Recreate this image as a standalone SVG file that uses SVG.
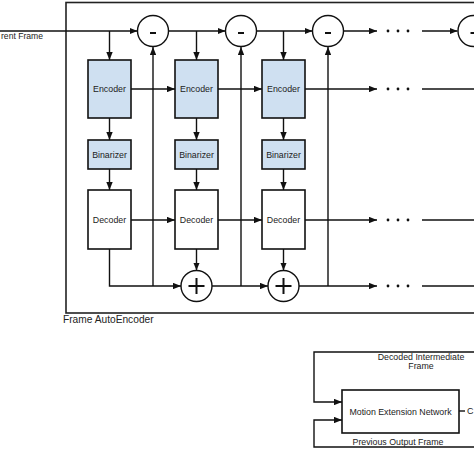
<svg xmlns="http://www.w3.org/2000/svg" width="474" height="474" viewBox="0 0 474 474">
<defs>
<marker id="ah" viewBox="0 0 10 8" refX="10" refY="4" markerWidth="8" markerHeight="6.4" markerUnits="userSpaceOnUse" orient="auto">
<path d="M0,0 L10,4 L0,8 Z" fill="#111"/>
</marker>
<style>
.ln{fill:none;stroke:#111;stroke-width:1.4}
.ar{fill:none;stroke:#111;stroke-width:1.4;marker-end:url(#ah)}
.blue{fill:#cfe0f1;stroke:#111;stroke-width:1.6}
.white{fill:#fff;stroke:#111;stroke-width:1.6}
.op{fill:#fff;stroke:#111;stroke-width:1.4}
.sign{stroke:#111;stroke-width:2;fill:none}
.t{font-family:"Liberation Sans",Arial,sans-serif;font-size:8.8px;fill:#222;text-anchor:middle}
.dot{fill:#111}
</style>
</defs>
<rect width="474" height="474" fill="#fff"/>

<g id="frame-autoencoder">
<rect x="66" y="2.5" width="420" height="310.5" fill="none" stroke="#222" stroke-width="1.6"/>
<text x="63" y="323" style="font-family:'Liberation Sans',Arial,sans-serif;font-size:10.2px;fill:#222">Frame AutoEncoder</text>
</g>

<g id="connectors">
<!-- current frame row -->
<line class="ar" x1="0" y1="31" x2="137.5" y2="31"/>
<line class="ar" x1="109.5" y1="31" x2="109.5" y2="60"/>
<line class="ar" x1="168.5" y1="31" x2="225.5" y2="31"/>
<line class="ar" x1="196.5" y1="31" x2="196.5" y2="60"/>
<line class="ar" x1="256.5" y1="31" x2="312.5" y2="31"/>
<line class="ar" x1="283.5" y1="31" x2="283.5" y2="60"/>
<line class="ar" x1="343.5" y1="31" x2="377" y2="31"/>
<line class="ar" x1="422" y1="31" x2="457.5" y2="31"/>
<!-- encoder row -->
<line class="ar" x1="131" y1="89" x2="175" y2="89"/>
<line class="ar" x1="218" y1="89" x2="262" y2="89"/>
<line class="ar" x1="305" y1="89" x2="377" y2="89"/>
<line class="ln" x1="422" y1="89" x2="474" y2="89"/>
<!-- encoder to binarizer to decoder -->
<line class="ar" x1="109.5" y1="118" x2="109.5" y2="140"/>
<line class="ar" x1="196.5" y1="118" x2="196.5" y2="140"/>
<line class="ar" x1="283.5" y1="118" x2="283.5" y2="140"/>
<line class="ar" x1="109.5" y1="169" x2="109.5" y2="190"/>
<line class="ar" x1="196.5" y1="169" x2="196.5" y2="190"/>
<line class="ar" x1="283.5" y1="169" x2="283.5" y2="190"/>
<!-- decoder row -->
<line class="ar" x1="131" y1="220" x2="175" y2="220"/>
<line class="ar" x1="218" y1="220" x2="262" y2="220"/>
<line class="ar" x1="305" y1="220" x2="377" y2="220"/>
<line class="ln" x1="422" y1="220" x2="474" y2="220"/>
<!-- sum row -->
<path class="ar" d="M109.5,249 V286 H181"/>
<line class="ar" x1="153" y1="286" x2="153" y2="47"/>
<line class="ar" x1="196.5" y1="249" x2="196.5" y2="270.5"/>
<line class="ar" x1="212" y1="286" x2="268" y2="286"/>
<line class="ar" x1="241" y1="286" x2="241" y2="47"/>
<line class="ar" x1="283.5" y1="249" x2="283.5" y2="270.5"/>
<line class="ar" x1="299" y1="286" x2="377" y2="286"/>
<line class="ar" x1="328" y1="286" x2="328" y2="47"/>
<line class="ln" x1="422" y1="286" x2="474" y2="286"/>
<!-- motion extension loops -->
<path class="ar" d="M474,352 H314 V402 H342"/>
<path class="ar" d="M474,447 H314 V420 H342"/>
<line class="ln" x1="459" y1="411" x2="465" y2="411"/>
</g>

<g id="ellipses">
<circle class="dot" cx="388" cy="31" r="1.4"/><circle class="dot" cx="398" cy="31" r="1.4"/><circle class="dot" cx="408" cy="31" r="1.4"/>
<circle class="dot" cx="388" cy="89" r="1.4"/><circle class="dot" cx="398" cy="89" r="1.4"/><circle class="dot" cx="408" cy="89" r="1.4"/>
<circle class="dot" cx="388" cy="220" r="1.4"/><circle class="dot" cx="398" cy="220" r="1.4"/><circle class="dot" cx="408" cy="220" r="1.4"/>
<circle class="dot" cx="388" cy="286" r="1.4"/><circle class="dot" cx="398" cy="286" r="1.4"/><circle class="dot" cx="408" cy="286" r="1.4"/>
</g>

<g id="minus1"><circle class="op" cx="153" cy="31" r="15.5"/><line class="sign" x1="150" y1="33" x2="156" y2="33"/></g>
<g id="minus2"><circle class="op" cx="241" cy="31" r="15.5"/><line class="sign" x1="238" y1="33" x2="244" y2="33"/></g>
<g id="minus3"><circle class="op" cx="328" cy="31" r="15.5"/><line class="sign" x1="325" y1="33" x2="331" y2="33"/></g>
<g id="minus4"><circle class="op" cx="473.5" cy="31" r="15.5"/><line class="sign" x1="470.5" y1="33" x2="476.5" y2="33"/></g>

<g id="plus1"><circle class="op" cx="196.5" cy="286" r="15.5"/><path class="sign" d="M188.5,286 H204.5 M196.5,278 V294"/></g>
<g id="plus2"><circle class="op" cx="283.5" cy="286" r="15.5"/><path class="sign" d="M275.5,286 H291.5 M283.5,278 V294"/></g>

<g id="encoder1"><rect class="blue" x="88" y="60" width="43" height="58"/><text class="t" x="109.5" y="92">Encoder</text></g>
<g id="encoder2"><rect class="blue" x="175" y="60" width="43" height="58"/><text class="t" x="196.5" y="92">Encoder</text></g>
<g id="encoder3"><rect class="blue" x="262" y="60" width="43" height="58"/><text class="t" x="283.5" y="92">Encoder</text></g>

<g id="binarizer1"><rect class="blue" x="88" y="140" width="43" height="29"/><text class="t" x="109.5" y="157.5">Binarizer</text></g>
<g id="binarizer2"><rect class="blue" x="175" y="140" width="43" height="29"/><text class="t" x="196.5" y="157.5">Binarizer</text></g>
<g id="binarizer3"><rect class="blue" x="262" y="140" width="43" height="29"/><text class="t" x="283.5" y="157.5">Binarizer</text></g>

<g id="decoder1"><rect class="white" x="88" y="190" width="43" height="59"/><text class="t" x="109.5" y="223">Decoder</text></g>
<g id="decoder2"><rect class="white" x="175" y="190" width="43" height="59"/><text class="t" x="196.5" y="223">Decoder</text></g>
<g id="decoder3"><rect class="white" x="262" y="190" width="43" height="59"/><text class="t" x="283.5" y="223">Decoder</text></g>

<g id="current-frame-label"><text x="1" y="39" style="font-family:'Liberation Sans',Arial,sans-serif;font-size:8.6px;fill:#222">rent Frame</text></g>

<g id="motion-extension-network">
<rect class="white" x="342" y="390" width="117" height="43"/>
<text class="t" x="400.5" y="415">Motion Extension Network</text>
</g>
<g id="loop-labels">
<text class="t" x="421" y="360">Decoded Intermediate</text>
<text class="t" x="421" y="368.5">Frame</text>
<text class="t" x="398" y="445">Previous Output Frame</text>
<text x="467" y="414" style="font-family:'Liberation Sans',Arial,sans-serif;font-size:9px;fill:#222">C</text>
</g>
</svg>
